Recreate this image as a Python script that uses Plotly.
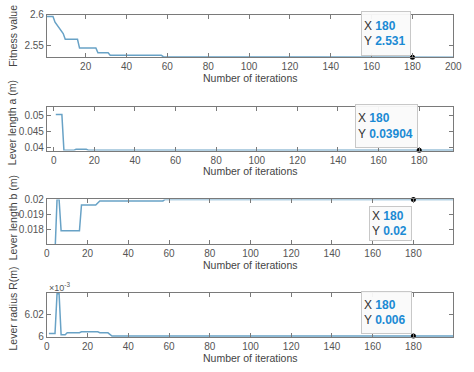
import plotly.graph_objects as go

# ---- data ----
fit_x = [1, 4, 5, 6, 7, 8, 9, 10, 16, 17, 25, 26, 31, 32, 57, 58, 97, 98, 200]
fit_y = [2.597, 2.597, 2.588, 2.583, 2.578, 2.573, 2.5695, 2.5603, 2.5603, 2.546, 2.546,
         2.5384, 2.5384, 2.5345, 2.5345, 2.532, 2.532, 2.531, 2.531]

a_x = [1, 4, 5, 10, 11, 16, 17, 200]
a_y = [0.0505, 0.0505, 0.03904, 0.03904, 0.0393, 0.0393, 0.03904, 0.03904]

b_x = [1, 4, 5, 6, 7, 16, 17, 24, 26, 57, 58, 200]
b_y = [0.0165, 0.0165, 0.02, 0.02, 0.01793, 0.01793, 0.01963, 0.01963, 0.0199, 0.0199, 0.02, 0.02]

# Lever radius in units of 1e-3 m
R_x = [1, 4, 5, 6, 7, 9, 10, 16, 17, 25, 26, 30, 32, 200]
R_y = [6.0024, 6.0024, 6.039, 6.039, 6.0012, 6.0012, 6.003, 6.003, 6.0039, 6.0039,
       6.003, 6.003, 6.0, 6.0]

tip_x = 180
tip_y = [2.531, 0.03904, 0.02, 6.0]
tip_labels = ["2.531", "0.03904", "0.02", "0.006"]

y_titles = ["Fitness value", "Lever length a (m)", "Lever length b (m)", "Lever radius R(m)"]
x_title = "Number of iterations"

x_ticks = [[20, 40, 60, 80, 100, 120, 140, 160, 180, 200],
           [0, 20, 40, 60, 80, 100, 120, 140, 160, 180],
           [0, 20, 40, 60, 80, 100, 120, 140, 160, 180],
           [0, 20, 40, 60, 80, 100, 120, 140, 160, 180]]
y_ticks = [[2.55, 2.6], [0.04, 0.045, 0.05], [0.018, 0.019, 0.02], [6, 6.02]]
y_ticktext = [["2.55", "2.6"], ["0.04", "0.045", "0.05"], ["0.018", "0.019", "0.02"], ["6", "6.02"]]

# ---- layout geometry ----
W, H = 474, 372
xl, xr = 45, 462
panels_px = [(9, 53), (104, 149), (199.3, 245.7), (295.7, 341)]
x_ranges = [[1, 200], [-3.4, 196.8], [0, 199.6], [0, 199.6]]
y_ranges = [[2.5308, 2.6], [0.0389, 0.0529], [0.01702, 0.02], [5.9992, 6.0397]]
xtitle_px = [74, 170, 266.7, 363]
ytitle_px = [31, 120, 218, 312]
# datatip boxes: (width, height, yanchor, yshift)
tips = [(52, 43, "bottom", 1), (65, 42, "bottom", 2), (45, 33, "top", -7), (53, 41, "bottom", 2)]

FONT = "Arial, Liberation Sans, sans-serif"
line_color = "#68a2c6"
frame_color = "#7a7a7a"
text_color = "#555555"
tick_font = dict(family=FONT, size=10, color=text_color)

fig = go.Figure()
series = [(fit_x, fit_y), (a_x, a_y), (b_x, b_y), (R_x, R_y)]
annotations = []
for i, (xs, ys) in enumerate(series):
    n = "" if i == 0 else str(i + 1)
    fig.add_trace(go.Scatter(x=xs, y=ys, mode="lines", line=dict(color=line_color, width=1.5),
                             xaxis="x" + n, yaxis="y" + n, showlegend=False, hoverinfo="skip"))
    fig.add_trace(go.Scatter(x=[tip_x], y=[tip_y[i]], mode="markers",
                             marker=dict(color="black", size=5), cliponaxis=False,
                             xaxis="x" + n, yaxis="y" + n, showlegend=False, hoverinfo="skip"))
    top, bot = panels_px[i]
    dom_y = [1 - bot / H, 1 - top / H]
    common = dict(showline=True, linecolor=frame_color, linewidth=1, mirror="allticks",
                  ticks="inside", ticklen=4, tickcolor=frame_color, showgrid=False,
                  zeroline=False, tickfont=tick_font)
    fig.update_layout(**{
        "xaxis" + n: dict(domain=[xl / W, xr / W], range=x_ranges[i], anchor="y" + n,
                          tickvals=x_ticks[i], **common),
        "yaxis" + n: dict(domain=dom_y, range=y_ranges[i], anchor="x" + n,
                          tickvals=y_ticks[i], ticktext=y_ticktext[i], **common),
    })
    # axis titles
    annotations.append(dict(text=x_title, xref="paper", yref="paper", x=(xl + xr) / 2 / W,
                            y=1 - xtitle_px[i] / H, xanchor="center", yanchor="middle",
                            showarrow=False, font=dict(family=FONT, size=10.5, color="#444444")))
    annotations.append(dict(text=y_titles[i], xref="paper", yref="paper", x=10 / W,
                            y=1 - ytitle_px[i] / H, xanchor="center", yanchor="middle",
                            textangle=-90, showarrow=False,
                            font=dict(family=FONT, size=10.5, color="#444444")))
    # datatip
    w, h, ya, ys_ = tips[i]
    annotations.append(dict(
        text="X <b><span style='color:#1a8ad4'>%d</span></b><br>Y <b><span style='color:#1a8ad4'>%s</span></b>"
             % (tip_x, tip_labels[i]),
        xref="x" + n, yref="y" + n, x=tip_x, y=tip_y[i], xanchor="right", yanchor=ya,
        xshift=-1, yshift=ys_, showarrow=False, align="left", valign="middle",
        width=w - 8, height=h - 4, borderpad=2, bgcolor="rgba(250,250,250,0.95)",
        bordercolor="#c8c8c8", borderwidth=1,
        font=dict(family=FONT, size=12, color="#333333")))

annotations.append(dict(text="\u00d710<sup>-3</sup>", xref="paper", yref="paper", x=45 / W,
                        y=1 - 290 / H, xanchor="left", yanchor="middle", showarrow=False,
                        font=dict(family=FONT, size=9, color=text_color)))

fig.update_layout(width=W, height=H, margin=dict(l=0, r=0, t=0, b=0),
                  paper_bgcolor="white", plot_bgcolor="white", annotations=annotations)

fig.write_html("out.html", config={"displayModeBar": False},
               post_script="document.body.style.margin='0';document.body.style.padding='0';")
